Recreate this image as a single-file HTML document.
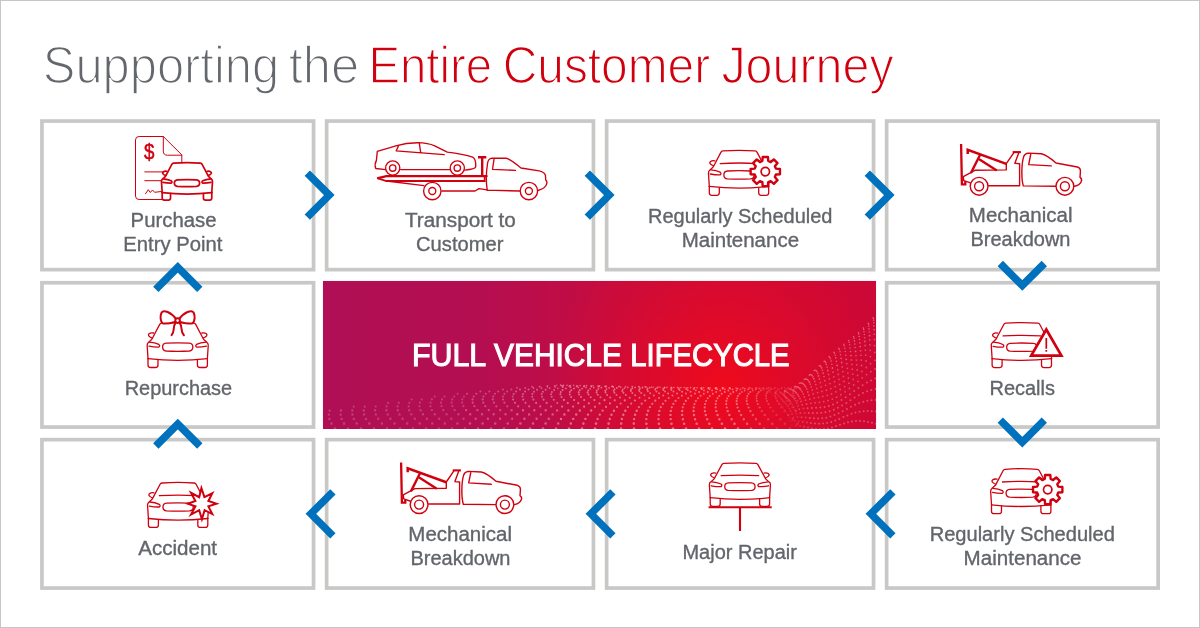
<!DOCTYPE html>
<html lang="en"><head><meta charset="utf-8"><title>Supporting the Entire Customer Journey</title>
<style>html,body{margin:0;padding:0;background:#fff}body{width:1200px;height:628px;overflow:hidden;position:relative}svg{position:absolute;left:0;top:0;display:block;will-change:transform}text{font-family:"Liberation Sans",sans-serif}.lbl{font-size:20px;fill:#62656a;stroke:#62656a;stroke-width:0.35px}.ttl{font-size:52px}</style></head><body>
<svg width="1200" height="628" viewBox="0 0 1200 628">
<defs>
<linearGradient id="bg1" x1="0" y1="0" x2="1" y2="0"><stop offset="0" stop-color="#b00f55"/><stop offset="0.28" stop-color="#b40e51"/><stop offset="0.5" stop-color="#c40c42"/><stop offset="0.72" stop-color="#cf0a38"/><stop offset="1" stop-color="#cb0836"/></linearGradient>
<radialGradient id="bg2" gradientUnits="userSpaceOnUse" cx="722" cy="388" r="175"><stop offset="0" stop-color="#f00a1c" stop-opacity="1"/><stop offset="0.45" stop-color="#e60a22" stop-opacity="0.6"/><stop offset="1" stop-color="#dc0a28" stop-opacity="0"/></radialGradient>
<clipPath id="bclip"><rect x="322.8" y="280.8" width="553.4" height="148.3"/></clipPath>
</defs>
<rect x="0.5" y="0.5" width="1199" height="627" fill="#fff" stroke="#c6c6c6" stroke-width="1"/>
<g fill="none" stroke="#c8c9c7" stroke-width="3.7">
<rect x="41.95" y="121.05" width="271.60" height="148.60"/>
<rect x="326.65" y="121.05" width="266.80" height="148.60"/>
<rect x="606.65" y="121.05" width="266.90" height="148.60"/>
<rect x="886.65" y="121.05" width="271.50" height="148.60"/>
<rect x="41.95" y="282.75" width="271.60" height="144.30"/>
<rect x="886.65" y="282.75" width="271.50" height="144.30"/>
<rect x="41.95" y="439.65" width="271.60" height="148.40"/>
<rect x="326.65" y="439.65" width="266.80" height="148.40"/>
<rect x="606.65" y="439.65" width="266.90" height="148.40"/>
<rect x="886.65" y="439.65" width="271.50" height="148.40"/>
</g>
<g clip-path="url(#bclip)">
<rect x="322.8" y="280.8" width="553.4" height="148.3" fill="url(#bg1)"/>
<rect x="322.8" y="280.8" width="553.4" height="148.3" fill="url(#bg2)"/>
<path d="M771.4 393.2h0M772.8 394.8h0M774.1 396.5h0M775.5 398.3h0" stroke="#ffd9e2" stroke-opacity="0.08" stroke-width="1.60" stroke-linecap="round" fill="none"/>
<path d="M777.5 388.0h0M784.4 387.9h0M791.3 387.9h0M798.2 387.8h0M775.1 387.9h0M781.6 387.8h0M788.1 387.8h0M794.6 387.7h0M770.0 392.0h0M774.9 392.4h0M776.2 393.5h0M777.6 394.9h0M778.9 396.3h0M780.2 397.8h0" stroke="#ffd9e2" stroke-opacity="0.16" stroke-width="1.60" stroke-linecap="round" fill="none"/>
<path d="M763.7 388.1h0M770.6 388.0h0M762.1 388.0h0M768.6 387.9h0M779.8 392.0h0M781.1 392.9h0M782.4 394.0h0M783.6 395.1h0M784.9 396.3h0M788.4 393.1h0M789.6 394.0h0" stroke="#ffd9e2" stroke-opacity="0.24" stroke-width="1.60" stroke-linecap="round" fill="none"/>
<path d="M756.8 388.1h0M755.6 388.0h0M784.8 390.9h0M786.0 391.5h0M787.2 392.3h0M789.7 389.1h0M790.8 389.4h0M792.0 389.8h0M793.1 390.4h0M794.2 391.1h0" stroke="#ffd9e2" stroke-opacity="0.32" stroke-width="1.60" stroke-linecap="round" fill="none"/>
<path d="M556.5 385.3h0M743.0 388.1h0M749.9 388.1h0M742.6 388.0h0M749.1 388.0h0M794.6 386.5h0M795.7 386.5h0M796.8 386.7h0M797.8 387.1h0M798.9 387.8h0M799.5 383.3h0M800.5 383.0h0M801.6 383.0h0M802.6 383.4h0M803.6 384.2h0M804.4 379.4h0M805.4 379.0h0M806.4 379.0h0M807.3 379.5h0M808.3 380.5h0M809.3 375.1h0M810.2 374.6h0M811.2 374.8h0M812.1 375.5h0M813.0 376.9h0M814.2 370.5h0M815.1 370.2h0M816.0 370.5h0M816.8 371.6h0M817.7 373.4h0M819.2 365.8h0M820.0 365.7h0M820.8 366.4h0M821.6 367.9h0M822.4 370.2h0M824.1 361.2h0M824.8 361.3h0M825.6 362.4h0M826.3 364.4h0M827.1 367.1h0M829.0 356.6h0M829.7 357.2h0M830.4 358.7h0M831.1 361.1h0M831.8 364.2h0M833.9 352.3h0M834.5 353.2h0M835.2 355.2h0M835.8 357.9h0M836.4 361.4h0M838.8 348.2h0M839.4 349.5h0M840.0 351.8h0M840.6 354.8h0M841.1 358.4h0M843.8 344.3h0M844.3 345.8h0M844.8 348.3h0M845.3 351.5h0M845.8 355.2h0M848.7 340.5h0M849.1 342.2h0M849.6 344.7h0M850.0 348.0h0M850.5 351.6h0M853.6 336.6h0M854.0 338.3h0M854.4 340.9h0M854.8 344.0h0M855.2 347.5h0M858.5 332.5h0M858.8 334.1h0M859.2 336.5h0M859.5 339.5h0M859.9 342.9h0M863.4 328.1h0M863.7 329.5h0M864.0 331.7h0M864.3 334.5h0M864.6 337.7h0M868.3 323.2h0M868.6 324.3h0M868.8 326.3h0M869.0 328.9h0M869.2 332.0h0M873.2 317.8h0M873.4 318.6h0M873.6 320.3h0M873.8 322.8h0M873.9 325.9h0" stroke="#ffd9e2" stroke-opacity="0.40" stroke-width="1.60" stroke-linecap="round" fill="none"/>
<path d="M563.4 385.4h0M570.3 385.5h0M577.2 385.7h0M584.2 385.8h0M591.1 385.9h0M598.0 386.1h0M604.9 386.2h0M611.8 386.4h0M618.7 386.5h0M625.6 386.6h0M632.5 386.8h0M639.4 386.9h0M646.3 387.1h0M653.2 387.2h0M660.1 387.3h0M667.0 387.4h0M673.9 387.5h0M680.8 387.6h0M687.8 387.7h0M694.7 387.8h0M701.6 387.9h0M708.5 387.9h0M715.4 388.0h0M722.3 388.0h0M729.2 388.1h0M736.1 388.1h0M560.6 385.1h0M567.1 385.2h0M573.6 385.3h0M580.1 385.5h0M586.6 385.6h0M593.1 385.7h0M599.6 385.9h0M606.1 386.0h0M612.6 386.2h0M619.1 386.3h0M625.6 386.5h0M632.1 386.6h0M638.6 386.7h0M645.1 386.9h0M651.6 387.0h0M658.1 387.1h0M664.6 387.2h0M671.1 387.3h0M677.6 387.4h0M684.1 387.5h0M690.6 387.6h0M697.1 387.7h0M703.6 387.8h0M710.1 387.8h0M716.6 387.9h0M723.1 387.9h0M729.6 388.0h0M736.1 388.0h0" stroke="#ffd9e2" stroke-opacity="0.48" stroke-width="1.60" stroke-linecap="round" fill="none"/>
<path d="M776.9 400.0h0M778.2 401.7h0M779.6 403.3h0M781.0 404.9h0M782.4 406.5h0M783.8 408.2h0M785.1 410.2h0" stroke="#ffd9e2" stroke-opacity="0.08" stroke-width="1.80" stroke-linecap="round" fill="none"/>
<path d="M777.1 390.5h0M785.2 390.4h0M793.4 390.3h0M779.0 389.3h0M786.7 389.2h0M794.4 389.2h0M774.1 388.5h0M781.4 388.4h0M788.7 388.4h0M796.0 388.3h0M781.5 399.2h0M782.8 400.5h0M784.1 401.9h0M785.5 403.3h0M786.8 404.9h0M788.1 406.6h0M789.4 408.7h0M791.2 402.9h0M792.4 404.8h0M793.7 407.2h0" stroke="#ffd9e2" stroke-opacity="0.16" stroke-width="1.80" stroke-linecap="round" fill="none"/>
<path d="M769.0 390.5h0M763.5 389.4h0M771.2 389.3h0M766.8 388.5h0M786.1 397.4h0M787.4 398.5h0M788.7 399.8h0M789.9 401.2h0M790.8 394.9h0M792.0 396.0h0M793.2 397.3h0M794.4 398.8h0M795.6 400.8h0M796.8 403.1h0M798.0 405.9h0" stroke="#ffd9e2" stroke-opacity="0.24" stroke-width="1.80" stroke-linecap="round" fill="none"/>
<path d="M752.8 390.5h0M760.9 390.5h0M755.8 389.4h0M752.1 388.6h0M759.5 388.5h0M795.4 392.0h0M796.5 393.1h0M797.7 394.6h0M798.8 396.4h0M800.0 398.7h0M801.1 401.5h0M802.3 404.8h0M801.1 390.1h0M802.2 391.8h0M803.3 394.1h0M804.4 396.9h0M805.5 400.2h0M806.6 404.0h0M805.7 387.0h0M806.7 389.2h0M807.8 392.0h0M808.8 395.2h0M809.8 399.1h0M810.8 403.3h0M810.3 384.1h0M811.2 386.8h0M812.2 390.1h0M813.2 393.9h0M814.2 398.1h0M815.1 402.8h0M814.8 381.4h0M815.8 384.6h0M816.7 388.4h0M817.6 392.6h0M818.5 397.3h0M819.4 402.3h0M819.4 378.9h0M820.3 382.6h0M821.1 386.8h0M822.0 391.4h0M822.8 396.4h0M823.7 401.6h0M824.0 376.6h0M824.8 380.7h0M825.6 385.3h0M826.4 390.2h0M827.2 395.3h0M828.0 400.6h0M828.6 374.4h0M829.3 378.8h0M830.0 383.6h0M830.8 388.6h0M831.5 393.8h0M832.3 399.1h0M833.1 372.2h0M833.8 376.8h0M834.5 381.7h0M835.2 386.7h0M835.9 391.9h0M836.6 397.2h0M837.7 369.7h0M838.3 374.4h0M839.0 379.3h0M839.6 384.4h0M840.2 389.5h0M840.8 394.7h0M842.3 366.9h0M842.8 371.6h0M843.4 376.5h0M844.0 381.4h0M844.6 386.6h0M845.1 391.8h0M846.8 363.7h0M847.4 368.3h0M847.9 373.1h0M848.4 378.0h0M848.9 383.2h0M849.4 388.5h0M851.4 359.9h0M851.9 364.4h0M852.3 369.2h0M852.8 374.1h0M853.2 379.4h0M853.7 385.0h0M856.0 355.6h0M856.4 360.1h0M856.8 364.8h0M857.2 369.9h0M857.6 375.4h0M858.0 381.4h0M860.6 350.8h0M860.9 355.2h0M861.2 360.1h0M861.6 365.5h0M861.9 371.4h0M862.3 377.9h0M865.1 345.5h0M865.4 350.1h0M865.7 355.2h0M866.0 361.0h0M866.3 367.5h0M866.6 374.6h0M869.7 339.9h0M869.9 344.8h0M870.2 350.3h0M870.4 356.6h0M870.6 363.7h0M870.9 371.7h0M874.3 334.2h0M874.5 339.5h0M874.6 345.6h0M874.8 352.5h0M875.0 360.3h0M875.1 369.0h0" stroke="#ffd9e2" stroke-opacity="0.32" stroke-width="1.80" stroke-linecap="round" fill="none"/>
<path d="M517.1 387.8h0M525.2 387.9h0M533.4 388.0h0M541.5 388.1h0M549.6 388.2h0M557.8 388.3h0M744.6 390.6h0M532.0 386.6h0M539.7 386.7h0M547.4 386.8h0M555.1 386.9h0M740.4 389.4h0M748.1 389.4h0M547.4 385.8h0M554.7 385.9h0M744.8 388.6h0M800.0 388.7h0M804.7 385.4h0M809.3 382.0h0M813.9 378.8h0M818.5 375.9h0M823.2 373.1h0M827.8 370.5h0M832.4 368.0h0M837.1 365.4h0M841.7 362.5h0M846.3 359.3h0M851.0 355.6h0M855.6 351.4h0M860.2 346.6h0M864.8 341.4h0M869.5 335.7h0M874.1 329.7h0" stroke="#ffd9e2" stroke-opacity="0.40" stroke-width="1.80" stroke-linecap="round" fill="none"/>
<path d="M565.9 388.4h0M574.0 388.5h0M582.1 388.7h0M590.2 388.8h0M598.4 388.9h0M606.5 389.1h0M614.6 389.2h0M622.8 389.3h0M630.9 389.5h0M639.0 389.6h0M647.1 389.7h0M655.2 389.8h0M663.4 390.0h0M671.5 390.1h0M679.6 390.2h0M687.8 390.2h0M695.9 390.3h0M704.0 390.4h0M712.1 390.4h0M720.2 390.5h0M728.4 390.5h0M736.5 390.5h0M562.8 387.0h0M570.5 387.2h0M578.3 387.3h0M586.0 387.4h0M593.7 387.6h0M601.4 387.7h0M609.1 387.8h0M616.9 388.0h0M624.6 388.1h0M632.3 388.3h0M640.0 388.4h0M647.7 388.5h0M655.5 388.6h0M663.2 388.7h0M670.9 388.9h0M678.6 389.0h0M686.3 389.0h0M694.0 389.1h0M701.8 389.2h0M709.5 389.3h0M717.2 389.3h0M724.9 389.3h0M732.6 389.4h0M562.0 386.0h0M569.3 386.1h0M576.6 386.3h0M584.0 386.4h0M591.3 386.6h0M598.6 386.7h0M605.9 386.8h0M613.2 387.0h0M620.5 387.1h0M627.8 387.3h0M635.1 387.4h0M642.5 387.5h0M649.8 387.7h0M657.1 387.8h0M664.4 387.9h0M671.7 388.0h0M679.0 388.1h0M686.3 388.2h0M693.6 388.3h0M701.0 388.4h0M708.3 388.4h0M715.6 388.5h0M722.9 388.5h0M730.2 388.5h0M737.5 388.6h0" stroke="#ffd9e2" stroke-opacity="0.48" stroke-width="1.80" stroke-linecap="round" fill="none"/>
<path d="M786.5 412.4h0M787.9 414.9h0M789.2 417.9h0M790.6 421.3h0M792.0 425.1h0" stroke="#ffd9e2" stroke-opacity="0.08" stroke-width="2.00" stroke-linecap="round" fill="none"/>
<path d="M776.0 398.3h0M785.7 398.3h0M795.5 398.2h0M775.3 395.9h0M784.7 395.9h0M794.0 395.8h0M775.3 393.8h0M784.2 393.7h0M793.2 393.7h0M775.9 392.0h0M784.4 391.9h0M793.0 391.9h0M790.7 411.2h0M792.0 414.0h0M793.4 417.4h0M794.7 421.1h0M796.0 425.4h0M795.0 410.1h0M796.2 413.4h0M797.5 417.1h0M798.7 421.4h0M800.0 426.0h0" stroke="#ffd9e2" stroke-opacity="0.16" stroke-width="2.00" stroke-linecap="round" fill="none"/>
<path d="M434.7 396.4h0M444.5 396.4h0M454.2 396.4h0M464.0 396.4h0M766.2 398.4h0M457.6 393.7h0M766.0 395.9h0M766.4 393.8h0M767.4 392.0h0M799.2 409.2h0M800.4 413.0h0M801.6 417.2h0M802.8 421.8h0M804.0 426.8h0M803.4 408.6h0M804.6 412.9h0M805.7 417.5h0M806.9 422.5h0M808.0 427.6h0" stroke="#ffd9e2" stroke-opacity="0.24" stroke-width="2.00" stroke-linecap="round" fill="none"/>
<path d="M473.7 396.4h0M483.5 396.4h0M493.2 396.4h0M503.0 396.5h0M512.7 396.5h0M756.5 398.4h0M467.0 393.7h0M476.3 393.7h0M485.7 393.7h0M495.0 393.8h0M504.4 393.8h0M756.6 396.0h0M480.4 391.4h0M489.3 391.4h0M498.2 391.4h0M507.2 391.5h0M757.4 393.8h0M502.9 389.4h0M511.4 389.5h0M758.9 392.0h0M807.6 408.2h0M808.7 412.9h0M809.8 417.9h0M810.9 423.1h0M812.0 428.4h0M811.9 408.0h0M812.9 413.0h0M813.9 418.2h0M815.0 423.6h0M816.0 429.0h0M816.1 407.8h0M817.1 413.1h0M818.1 418.4h0M819.0 423.8h0M820.0 429.2h0M820.3 407.5h0M821.2 412.8h0M822.2 418.2h0M823.1 423.6h0M824.0 429.0h0M824.6 406.9h0M825.4 412.3h0M826.3 417.7h0M827.1 423.0h0M828.0 428.4h0M828.8 405.9h0M829.6 411.3h0M830.4 416.6h0M831.2 422.0h0M832.0 427.4h0M833.0 404.4h0M833.8 409.8h0M834.5 415.1h0M835.3 420.6h0M836.0 426.1h0M837.2 402.5h0M837.9 407.8h0M838.6 413.3h0M839.3 418.9h0M840.0 424.8h0M841.5 400.0h0M842.1 405.5h0M842.7 411.2h0M843.4 417.1h0M844.0 423.4h0M845.7 397.2h0M846.3 402.9h0M846.9 408.9h0M847.4 415.4h0M848.0 422.3h0M849.9 394.2h0M850.5 400.2h0M851.0 406.8h0M851.5 413.8h0M852.0 421.5h0M854.2 391.1h0M854.6 397.6h0M855.1 404.8h0M855.5 412.6h0M856.0 421.0h0M858.4 388.0h0M858.8 395.2h0M859.2 403.1h0M859.6 411.7h0M860.0 421.0h0M862.6 385.2h0M863.0 393.1h0M863.3 401.8h0M863.7 411.2h0M864.0 421.3h0M866.9 382.6h0M867.1 391.3h0M867.4 400.8h0M867.7 411.1h0M868.0 422.0h0M871.1 380.4h0M871.3 390.0h0M871.5 400.2h0M871.8 411.2h0M872.0 422.8h0M875.3 378.6h0M875.5 388.9h0M875.7 399.9h0M875.8 411.5h0M876.0 423.7h0" stroke="#ffd9e2" stroke-opacity="0.32" stroke-width="2.00" stroke-linecap="round" fill="none"/>
<path d="M522.5 396.6h0M532.2 396.7h0M542.0 396.7h0M551.7 396.8h0M746.7 398.4h0M513.7 393.9h0M523.0 393.9h0M532.4 394.0h0M541.7 394.1h0M551.1 394.2h0M747.3 396.0h0M516.1 391.6h0M525.1 391.6h0M534.0 391.7h0M542.9 391.8h0M551.9 391.9h0M748.5 393.8h0M520.0 389.6h0M528.5 389.6h0M537.0 389.7h0M545.6 389.8h0M554.1 389.9h0M741.8 392.0h0M750.3 392.0h0" stroke="#ffd9e2" stroke-opacity="0.40" stroke-width="2.00" stroke-linecap="round" fill="none"/>
<path d="M561.5 396.9h0M571.2 397.0h0M581.0 397.1h0M590.7 397.2h0M600.5 397.3h0M610.2 397.4h0M620.0 397.6h0M629.7 397.7h0M639.5 397.8h0M649.2 397.9h0M659.0 398.0h0M668.7 398.0h0M678.5 398.1h0M688.2 398.2h0M698.0 398.2h0M707.7 398.3h0M717.5 398.3h0M727.2 398.4h0M737.0 398.4h0M560.4 394.3h0M569.8 394.4h0M579.1 394.5h0M588.5 394.6h0M597.8 394.7h0M607.1 394.9h0M616.5 395.0h0M625.8 395.1h0M635.2 395.2h0M644.5 395.3h0M653.9 395.4h0M663.2 395.5h0M672.5 395.6h0M681.9 395.7h0M691.2 395.8h0M700.6 395.8h0M709.9 395.9h0M719.3 395.9h0M728.6 395.9h0M737.9 396.0h0M560.8 392.0h0M569.8 392.1h0M578.7 392.2h0M587.6 392.4h0M596.6 392.5h0M605.5 392.6h0M614.4 392.7h0M623.4 392.8h0M632.3 393.0h0M641.2 393.1h0M650.2 393.2h0M659.1 393.3h0M668.1 393.4h0M677.0 393.5h0M685.9 393.6h0M694.9 393.6h0M703.8 393.7h0M712.8 393.8h0M721.7 393.8h0M730.6 393.8h0M739.6 393.8h0M562.6 390.0h0M571.2 390.2h0M579.7 390.3h0M588.2 390.4h0M596.8 390.5h0M605.3 390.7h0M613.8 390.8h0M622.3 390.9h0M630.9 391.1h0M639.4 391.2h0M647.9 391.3h0M656.5 391.4h0M665.0 391.5h0M673.5 391.6h0M682.1 391.7h0M690.6 391.8h0M699.1 391.9h0M707.7 391.9h0M716.2 392.0h0M724.7 392.0h0M733.3 392.0h0" stroke="#ffd9e2" stroke-opacity="0.48" stroke-width="2.00" stroke-linecap="round" fill="none"/>
<path d="M781.5 407.4h0M792.5 407.4h0M779.0 404.1h0M789.6 404.1h0M777.2 401.1h0M787.3 401.0h0M797.5 401.0h0" stroke="#ffd9e2" stroke-opacity="0.16" stroke-width="2.20" stroke-linecap="round" fill="none"/>
<path d="M353.7 406.6h0M364.7 406.6h0M375.7 406.5h0M386.6 406.4h0M397.6 406.4h0M408.6 406.3h0M419.5 406.3h0M430.5 406.3h0M441.5 406.2h0M452.4 406.2h0M463.4 406.2h0M770.5 407.5h0M388.2 402.9h0M398.8 402.8h0M409.4 402.8h0M419.9 402.7h0M430.5 402.7h0M441.0 402.7h0M451.6 402.7h0M462.2 402.7h0M768.5 404.1h0M411.6 399.5h0M421.7 399.5h0M431.9 399.4h0M442.0 399.4h0M452.2 399.4h0M462.3 399.4h0M767.0 401.1h0" stroke="#ffd9e2" stroke-opacity="0.24" stroke-width="2.20" stroke-linecap="round" fill="none"/>
<path d="M474.4 406.2h0M485.3 406.2h0M496.3 406.3h0M507.3 406.3h0M759.6 407.5h0M472.7 402.7h0M483.3 402.7h0M493.9 402.7h0M504.4 402.7h0M757.9 404.1h0M472.5 399.4h0M482.7 399.4h0M492.8 399.4h0M503.0 399.5h0M756.9 401.1h0" stroke="#ffd9e2" stroke-opacity="0.32" stroke-width="2.20" stroke-linecap="round" fill="none"/>
<path d="M518.2 406.3h0M529.2 406.4h0M540.2 406.4h0M551.2 406.5h0M748.6 407.5h0M515.0 402.8h0M525.5 402.8h0M536.1 402.9h0M546.7 402.9h0M557.2 403.0h0M747.4 404.2h0M513.1 399.5h0M523.3 399.6h0M533.4 399.6h0M543.6 399.7h0M553.8 399.8h0M746.7 401.1h0" stroke="#ffd9e2" stroke-opacity="0.40" stroke-width="2.20" stroke-linecap="round" fill="none"/>
<path d="M562.1 406.6h0M573.1 406.6h0M584.1 406.7h0M595.0 406.8h0M606.0 406.9h0M617.0 406.9h0M627.9 407.0h0M638.9 407.1h0M649.9 407.2h0M660.8 407.2h0M671.8 407.3h0M682.8 407.3h0M693.8 407.4h0M704.7 407.4h0M715.7 407.4h0M726.7 407.5h0M737.6 407.5h0M567.8 403.1h0M578.3 403.2h0M588.9 403.3h0M599.5 403.4h0M610.0 403.4h0M620.6 403.5h0M631.2 403.6h0M641.7 403.7h0M652.3 403.8h0M662.9 403.9h0M673.4 403.9h0M684.0 404.0h0M694.5 404.0h0M705.1 404.1h0M715.7 404.1h0M726.2 404.1h0M736.8 404.1h0M563.9 399.9h0M574.1 400.0h0M584.2 400.0h0M594.4 400.1h0M604.5 400.2h0M614.7 400.3h0M624.8 400.4h0M635.0 400.5h0M645.2 400.6h0M655.3 400.7h0M665.5 400.8h0M675.6 400.9h0M685.8 400.9h0M695.9 401.0h0M706.1 401.0h0M716.2 401.1h0M726.4 401.1h0M736.6 401.1h0" stroke="#ffd9e2" stroke-opacity="0.48" stroke-width="2.20" stroke-linecap="round" fill="none"/>
<path d="M780.4 419.2h0M792.6 419.2h0M776.5 415.0h0M788.3 415.0h0M773.2 411.1h0M784.6 411.1h0M795.9 411.0h0" stroke="#ffd9e2" stroke-opacity="0.16" stroke-width="2.40" stroke-linecap="round" fill="none"/>
<path d="M329.4 419.0h0M341.6 418.9h0M353.8 418.9h0M366.0 418.9h0M378.2 418.8h0M390.4 418.8h0M402.6 418.8h0M414.8 418.8h0M426.9 418.7h0M439.1 418.7h0M451.3 418.7h0M463.5 418.7h0M768.2 419.2h0M328.8 414.6h0M340.6 414.6h0M352.4 414.5h0M364.1 414.5h0M375.9 414.4h0M387.7 414.4h0M399.5 414.4h0M411.3 414.3h0M423.0 414.3h0M434.8 414.3h0M446.6 414.3h0M458.4 414.3h0M764.7 415.0h0M329.6 410.6h0M340.9 410.5h0M352.3 410.4h0M363.7 410.4h0M375.1 410.3h0M386.4 410.3h0M397.8 410.2h0M409.2 410.2h0M420.6 410.2h0M431.9 410.1h0M443.3 410.1h0M454.7 410.1h0M761.8 411.1h0" stroke="#ffd9e2" stroke-opacity="0.24" stroke-width="2.40" stroke-linecap="round" fill="none"/>
<path d="M475.7 418.7h0M487.9 418.7h0M500.1 418.7h0M512.2 418.8h0M756.0 419.2h0M470.2 414.3h0M482.0 414.3h0M493.7 414.3h0M505.5 414.3h0M752.9 415.0h0M466.1 410.1h0M477.4 410.1h0M488.8 410.1h0M500.2 410.1h0M511.6 410.2h0" stroke="#ffd9e2" stroke-opacity="0.32" stroke-width="2.40" stroke-linecap="round" fill="none"/>
<path d="M524.4 418.8h0M536.6 418.8h0M548.8 418.8h0M743.8 419.2h0M517.3 414.3h0M529.1 414.4h0M540.9 414.4h0M552.6 414.4h0M741.1 415.0h0M523.0 410.2h0M534.3 410.3h0M545.7 410.3h0M557.1 410.4h0M750.4 411.1h0" stroke="#ffd9e2" stroke-opacity="0.40" stroke-width="2.40" stroke-linecap="round" fill="none"/>
<path d="M561.0 418.9h0M573.2 418.9h0M585.4 418.9h0M597.6 419.0h0M609.8 419.0h0M621.9 419.0h0M634.1 419.1h0M646.3 419.1h0M658.5 419.1h0M670.7 419.1h0M682.9 419.2h0M695.1 419.2h0M707.2 419.2h0M719.4 419.2h0M731.6 419.2h0M564.4 414.5h0M576.2 414.5h0M588.0 414.6h0M599.8 414.6h0M611.5 414.7h0M623.3 414.7h0M635.1 414.8h0M646.9 414.8h0M658.7 414.9h0M670.5 414.9h0M682.2 414.9h0M694.0 415.0h0M705.8 415.0h0M717.6 415.0h0M729.4 415.0h0M568.4 410.4h0M579.8 410.5h0M591.2 410.5h0M602.6 410.6h0M613.9 410.7h0M625.3 410.7h0M636.7 410.8h0M648.1 410.8h0M659.4 410.9h0M670.8 410.9h0M682.2 411.0h0M693.6 411.0h0M704.9 411.1h0M716.3 411.1h0M727.7 411.1h0M739.1 411.1h0" stroke="#ffd9e2" stroke-opacity="0.48" stroke-width="2.40" stroke-linecap="round" fill="none"/>
<path d="M777.0 428.5h0M790.0 428.5h0M784.9 423.7h0M797.5 423.7h0" stroke="#ffd9e2" stroke-opacity="0.16" stroke-width="2.60" stroke-linecap="round" fill="none"/>
<path d="M322.0 428.5h0M335.0 428.5h0M348.0 428.5h0M361.0 428.5h0M374.0 428.5h0M387.0 428.5h0M400.0 428.5h0M413.0 428.5h0M426.0 428.5h0M439.0 428.5h0M452.0 428.5h0M465.0 428.5h0M764.0 428.5h0M331.5 423.6h0M344.1 423.6h0M356.7 423.5h0M369.3 423.5h0M381.9 423.5h0M394.5 423.5h0M407.1 423.5h0M419.7 423.5h0M432.3 423.5h0M444.8 423.5h0M457.4 423.5h0M772.3 423.7h0" stroke="#ffd9e2" stroke-opacity="0.24" stroke-width="2.60" stroke-linecap="round" fill="none"/>
<path d="M478.0 428.5h0M491.0 428.5h0M504.0 428.5h0M751.0 428.5h0M470.0 423.5h0M482.6 423.5h0M495.2 423.5h0M507.8 423.5h0M759.7 423.7h0" stroke="#ffd9e2" stroke-opacity="0.32" stroke-width="2.60" stroke-linecap="round" fill="none"/>
<path d="M517.0 428.5h0M530.0 428.5h0M543.0 428.5h0M556.0 428.5h0M520.4 423.5h0M533.0 423.5h0M545.6 423.5h0M558.2 423.5h0M747.1 423.7h0" stroke="#ffd9e2" stroke-opacity="0.40" stroke-width="2.60" stroke-linecap="round" fill="none"/>
<path d="M569.0 428.5h0M582.0 428.5h0M595.0 428.5h0M608.0 428.5h0M621.0 428.5h0M634.0 428.5h0M647.0 428.5h0M660.0 428.5h0M673.0 428.5h0M686.0 428.5h0M699.0 428.5h0M712.0 428.5h0M725.0 428.5h0M738.0 428.5h0M570.8 423.5h0M583.4 423.6h0M596.0 423.6h0M608.6 423.6h0M621.2 423.6h0M633.8 423.6h0M646.4 423.7h0M658.9 423.7h0M671.5 423.7h0M684.1 423.7h0M696.7 423.7h0M709.3 423.7h0M721.9 423.7h0M734.5 423.7h0" stroke="#ffd9e2" stroke-opacity="0.48" stroke-width="2.60" stroke-linecap="round" fill="none"/>
</g>
<g fill="#fff" stroke="#fff" stroke-width="1.1" font-size="31">
<text x="412.00" y="366.3" textLength="74.26" lengthAdjust="spacingAndGlyphs">FULL</text>
<text x="494.07" y="366.3" textLength="127.87" lengthAdjust="spacingAndGlyphs">VEHICLE</text>
<text x="630.30" y="366.3" textLength="159.28" lengthAdjust="spacingAndGlyphs">LIFECYCLE</text>
</g>
<g class="ttl" stroke="#fff" stroke-width="1.4" paint-order="fill stroke">
<text x="42.87" y="83.0" textLength="236.21" lengthAdjust="spacingAndGlyphs" fill="#64676c" stroke-width="1.6">Supporting</text>
<text x="288.75" y="83.0" textLength="70.60" lengthAdjust="spacingAndGlyphs" fill="#64676c" stroke-width="1.6">the</text>
<text x="368.45" y="83.0" textLength="123.64" lengthAdjust="spacingAndGlyphs" fill="#d1000f">Entire</text>
<text x="502.70" y="83.0" textLength="207.50" lengthAdjust="spacingAndGlyphs" fill="#d1000f">Customer</text>
<text x="721.38" y="83.0" textLength="172.26" lengthAdjust="spacingAndGlyphs" fill="#d1000f">Journey</text>
</g>
<g fill="none" stroke="#d1000f" stroke-linejoin="round" stroke-linecap="round">
<g fill="none" stroke="#d1000f" stroke-width="1.0" stroke-linejoin="round" stroke-linecap="round">
<path d="M162.7 199.5L139.1 199.5Q135.5 199.5 135.5 196.0L135.5 140.0Q135.5 136.5 139.1 136.5L163.3 136.5L181.8 154.9L181.8 163.2"/>
<path d="M163.3 136.5L163.3 151.1Q163.3 155.2 167.4 155.2L181.8 155.2"/>
<path d="M144.8 171.9L163.9 171.9M144.8 180.7L162.0 180.7"/>
<path d="M145.5 193.8L148.3 189.7L150.3 192.5L152.5 190.0L154.6 192.3L161.4 191.5"/>
</g>
<text transform="translate(149.3 159.4) scale(0.82 1)" x="0" y="0" font-size="22.9" fill="#d1000f" stroke="#d1000f" stroke-width="0.5" text-anchor="middle">$</text>
<g transform="translate(161.30 162.30) scale(0.8350 0.8350)" stroke-width="2.036"><path d="M1.06 36.4 L0.2 23 Q0.2 21.2 1.4 20.2 L4.7 17.2 Q5.5 16.2 6 15 L12.6 2.4 Q13.3 1.1 14.8 0.9 Q30.75 -0.3 46.7 0.9 Q48.2 1.1 48.9 2.4 L55.5 15 Q56 16.2 56.8 17.2 L60.1 20.2 Q61.3 21.2 61.3 23 L60.44 36.4 L60.44 42.8 Q60.44 45.3 57.94 45.3 L52.96 45.3 Q50.46 45.3 50.46 42.8 L50.46 37.6 Q30.75 39.4 11.04 37.6 L11.04 42.8 Q11.04 45.3 8.54 45.3 L3.56 45.3 Q1.06 45.3 1.06 42.8 Z" fill="#fff" stroke="none"/><path d="M1.06 36.4 L0.2 23 Q0.2 21.2 1.4 20.2 L4.7 17.2 Q5.5 16.2 6 15 L12.6 2.4 Q13.3 1.1 14.8 0.9 Q30.75 -0.3 46.7 0.9 Q48.2 1.1 48.9 2.4 L55.5 15 Q56 16.2 56.8 17.2 L60.1 20.2 Q61.3 21.2 61.3 23 L60.44 36.4"/><path d="M1.06 36.4 Q30.75 39.8 60.44 36.4"/><path d="M1.06 36.4 L1.06 42.8 Q1.06 45.3 3.56 45.3 L8.54 45.3 Q11.04 45.3 11.04 42.8 L11.04 37.6"/><path d="M60.44 36.40L60.44 42.80Q60.44 45.30 57.94 45.30L52.96 45.30Q50.46 45.30 50.46 42.80L50.46 37.60"/><path d="M6.6 10.8 Q4 10.2 2.4 11.4 Q0.8 12.6 2.2 14 Q3.4 15.2 5 15.7"/><path d="M54.90 10.80Q57.50 10.20 59.10 11.40Q60.70 12.60 59.30 14.00Q58.10 15.20 56.50 15.70"/><path d="M2.4 19.9 Q8 20.4 11.9 22.2 Q13.6 23.6 11.9 24.9 Q7 25 2 24"/><path d="M59.10 19.90Q53.50 20.40 49.60 22.20Q47.90 23.60 49.60 24.90Q54.50 25.00 59.50 24.00"/><path d="M19.2 21 Q30.75 20.4 42.3 21 Q45.9 21.3 45.9 24.9 Q45.9 28.5 42.3 28.8 Q30.75 29.4 19.2 28.8 Q15.6 28.5 15.6 24.9 Q15.6 21.3 19.2 21 Z"/></g>
<g transform="translate(708.25 150.00) scale(1.0000 1.0000)" stroke-width="1.300"><path d="M1.06 36.4 L0.2 23 Q0.2 21.2 1.4 20.2 L4.7 17.2 Q5.5 16.2 6 15 L12.6 2.4 Q13.3 1.1 14.8 0.9 Q30.75 -0.3 46.7 0.9 Q48.2 1.1 48.9 2.4 L55.5 15 Q56 16.2 56.8 17.2 L60.1 20.2 Q61.3 21.2 61.3 23 L60.44 36.4 L60.44 42.8 Q60.44 45.3 57.94 45.3 L52.96 45.3 Q50.46 45.3 50.46 42.8 L50.46 37.6 Q30.75 39.4 11.04 37.6 L11.04 42.8 Q11.04 45.3 8.54 45.3 L3.56 45.3 Q1.06 45.3 1.06 42.8 Z" fill="#fff" stroke="none"/><path d="M1.06 36.4 L0.2 23 Q0.2 21.2 1.4 20.2 L4.7 17.2 Q5.5 16.2 6 15 L12.6 2.4 Q13.3 1.1 14.8 0.9 Q30.75 -0.3 46.7 0.9 Q48.2 1.1 48.9 2.4 L55.5 15 Q56 16.2 56.8 17.2 L60.1 20.2 Q61.3 21.2 61.3 23 L60.44 36.4"/><path d="M1.06 36.4 Q30.75 39.8 60.44 36.4"/><path d="M1.06 36.4 L1.06 42.8 Q1.06 45.3 3.56 45.3 L8.54 45.3 Q11.04 45.3 11.04 42.8 L11.04 37.6"/><path d="M60.44 36.40L60.44 42.80Q60.44 45.30 57.94 45.30L52.96 45.30Q50.46 45.30 50.46 42.80L50.46 37.60"/><path d="M6.6 10.8 Q4 10.2 2.4 11.4 Q0.8 12.6 2.2 14 Q3.4 15.2 5 15.7"/><path d="M54.90 10.80Q57.50 10.20 59.10 11.40Q60.70 12.60 59.30 14.00Q58.10 15.20 56.50 15.70"/><path d="M12 13.6 Q30.75 12.4 49.5 13.6"/><path d="M2.4 19.9 Q8 20.4 11.9 22.2 Q13.6 23.6 11.9 24.9 Q7 25 2 24"/><path d="M59.10 19.90Q53.50 20.40 49.60 22.20Q47.90 23.60 49.60 24.90Q54.50 25.00 59.50 24.00"/><path d="M19.2 21 Q30.75 20.4 42.3 21 Q45.9 21.3 45.9 24.9 Q45.9 28.5 42.3 28.8 Q30.75 29.4 19.2 28.8 Q15.6 28.5 15.6 24.9 Q15.6 21.3 19.2 21 Z"/></g>
<path d="M762.36 161.00 L762.71 156.93 L767.89 156.93 L768.24 161.00 L770.72 162.03 L773.85 159.39 L777.51 163.05 L774.87 166.18 L775.90 168.66 L779.97 169.01 L779.97 174.19 L775.90 174.54 L774.87 177.02 L777.51 180.15 L773.85 183.81 L770.72 181.17 L768.24 182.20 L767.89 186.27 L762.71 186.27 L762.36 182.20 L759.88 181.17 L756.75 183.81 L753.09 180.15 L755.73 177.02 L754.70 174.54 L750.63 174.19 L750.63 169.01 L754.70 168.66 L755.73 166.18 L753.09 163.05 L756.75 159.39 L759.88 162.03 Z" fill="#fff" stroke-width="2.40" stroke-linejoin="round"/>
<circle cx="765.30" cy="171.60" r="4.20" fill="#fff" stroke-width="1.70"/>
<g transform="translate(991.05 322.30) scale(1.0000 1.0000)" stroke-width="1.300"><path d="M1.06 36.4 L0.2 23 Q0.2 21.2 1.4 20.2 L4.7 17.2 Q5.5 16.2 6 15 L12.6 2.4 Q13.3 1.1 14.8 0.9 Q30.75 -0.3 46.7 0.9 Q48.2 1.1 48.9 2.4 L55.5 15 Q56 16.2 56.8 17.2 L60.1 20.2 Q61.3 21.2 61.3 23 L60.44 36.4 L60.44 42.8 Q60.44 45.3 57.94 45.3 L52.96 45.3 Q50.46 45.3 50.46 42.8 L50.46 37.6 Q30.75 39.4 11.04 37.6 L11.04 42.8 Q11.04 45.3 8.54 45.3 L3.56 45.3 Q1.06 45.3 1.06 42.8 Z" fill="#fff" stroke="none"/><path d="M1.06 36.4 L0.2 23 Q0.2 21.2 1.4 20.2 L4.7 17.2 Q5.5 16.2 6 15 L12.6 2.4 Q13.3 1.1 14.8 0.9 Q30.75 -0.3 46.7 0.9 Q48.2 1.1 48.9 2.4 L55.5 15 Q56 16.2 56.8 17.2 L60.1 20.2 Q61.3 21.2 61.3 23 L60.44 36.4"/><path d="M1.06 36.4 Q30.75 39.8 60.44 36.4"/><path d="M1.06 36.4 L1.06 42.8 Q1.06 45.3 3.56 45.3 L8.54 45.3 Q11.04 45.3 11.04 42.8 L11.04 37.6"/><path d="M60.44 36.40L60.44 42.80Q60.44 45.30 57.94 45.30L52.96 45.30Q50.46 45.30 50.46 42.80L50.46 37.60"/><path d="M6.6 10.8 Q4 10.2 2.4 11.4 Q0.8 12.6 2.2 14 Q3.4 15.2 5 15.7"/><path d="M12 13.6 Q30.75 12.4 49.5 13.6"/><path d="M2.4 19.9 Q8 20.4 11.9 22.2 Q13.6 23.6 11.9 24.9 Q7 25 2 24"/><path d="M59.10 19.90Q53.50 20.40 49.60 22.20Q47.90 23.60 49.60 24.90Q54.50 25.00 59.50 24.00"/><path d="M19.2 21 Q30.75 20.4 42.3 21 Q45.9 21.3 45.9 24.9 Q45.9 28.5 42.3 28.8 Q30.75 29.4 19.2 28.8 Q15.6 28.5 15.6 24.9 Q15.6 21.3 19.2 21 Z"/></g>
<path d="M1046.3 329.5 L1061.4 355.55 L1031.2 355.55 Z" fill="#fff" stroke-width="2.7" stroke-linejoin="miter"/>
<path d="M1046.3 338.0 L1046.3 348.7 M1046.3 349.9 L1046.3 351.7" stroke-width="1.7" stroke-linecap="butt"/>
<g transform="translate(990.45 468.40) scale(1.0000 1.0000)" stroke-width="1.300"><path d="M1.06 36.4 L0.2 23 Q0.2 21.2 1.4 20.2 L4.7 17.2 Q5.5 16.2 6 15 L12.6 2.4 Q13.3 1.1 14.8 0.9 Q30.75 -0.3 46.7 0.9 Q48.2 1.1 48.9 2.4 L55.5 15 Q56 16.2 56.8 17.2 L60.1 20.2 Q61.3 21.2 61.3 23 L60.44 36.4 L60.44 42.8 Q60.44 45.3 57.94 45.3 L52.96 45.3 Q50.46 45.3 50.46 42.8 L50.46 37.6 Q30.75 39.4 11.04 37.6 L11.04 42.8 Q11.04 45.3 8.54 45.3 L3.56 45.3 Q1.06 45.3 1.06 42.8 Z" fill="#fff" stroke="none"/><path d="M1.06 36.4 L0.2 23 Q0.2 21.2 1.4 20.2 L4.7 17.2 Q5.5 16.2 6 15 L12.6 2.4 Q13.3 1.1 14.8 0.9 Q30.75 -0.3 46.7 0.9 Q48.2 1.1 48.9 2.4 L55.5 15 Q56 16.2 56.8 17.2 L60.1 20.2 Q61.3 21.2 61.3 23 L60.44 36.4"/><path d="M1.06 36.4 Q30.75 39.8 60.44 36.4"/><path d="M1.06 36.4 L1.06 42.8 Q1.06 45.3 3.56 45.3 L8.54 45.3 Q11.04 45.3 11.04 42.8 L11.04 37.6"/><path d="M60.44 36.40L60.44 42.80Q60.44 45.30 57.94 45.30L52.96 45.30Q50.46 45.30 50.46 42.80L50.46 37.60"/><path d="M6.6 10.8 Q4 10.2 2.4 11.4 Q0.8 12.6 2.2 14 Q3.4 15.2 5 15.7"/><path d="M54.90 10.80Q57.50 10.20 59.10 11.40Q60.70 12.60 59.30 14.00Q58.10 15.20 56.50 15.70"/><path d="M12 13.6 Q30.75 12.4 49.5 13.6"/><path d="M2.4 19.9 Q8 20.4 11.9 22.2 Q13.6 23.6 11.9 24.9 Q7 25 2 24"/><path d="M59.10 19.90Q53.50 20.40 49.60 22.20Q47.90 23.60 49.60 24.90Q54.50 25.00 59.50 24.00"/><path d="M19.2 21 Q30.75 20.4 42.3 21 Q45.9 21.3 45.9 24.9 Q45.9 28.5 42.3 28.8 Q30.75 29.4 19.2 28.8 Q15.6 28.5 15.6 24.9 Q15.6 21.3 19.2 21 Z"/></g>
<path d="M1044.76 479.00 L1045.11 474.93 L1050.29 474.93 L1050.64 479.00 L1053.12 480.03 L1056.25 477.39 L1059.91 481.05 L1057.27 484.18 L1058.30 486.66 L1062.37 487.01 L1062.37 492.19 L1058.30 492.54 L1057.27 495.02 L1059.91 498.15 L1056.25 501.81 L1053.12 499.17 L1050.64 500.20 L1050.29 504.27 L1045.11 504.27 L1044.76 500.20 L1042.28 499.17 L1039.15 501.81 L1035.49 498.15 L1038.13 495.02 L1037.10 492.54 L1033.03 492.19 L1033.03 487.01 L1037.10 486.66 L1038.13 484.18 L1035.49 481.05 L1039.15 477.39 L1042.28 480.03 Z" fill="#fff" stroke-width="2.40" stroke-linejoin="round"/>
<circle cx="1047.70" cy="489.60" r="4.20" fill="#fff" stroke-width="1.70"/>
<g transform="translate(709.15 462.60) scale(1.0000 0.9650)" stroke-width="1.300"><path d="M1.06 36.4 L0.2 23 Q0.2 21.2 1.4 20.2 L4.7 17.2 Q5.5 16.2 6 15 L12.6 2.4 Q13.3 1.1 14.8 0.9 Q30.75 -0.3 46.7 0.9 Q48.2 1.1 48.9 2.4 L55.5 15 Q56 16.2 56.8 17.2 L60.1 20.2 Q61.3 21.2 61.3 23 L60.44 36.4 L60.44 42.8 Q60.44 45.3 57.94 45.3 L52.96 45.3 Q50.46 45.3 50.46 42.8 L50.46 37.6 Q30.75 39.4 11.04 37.6 L11.04 42.8 Q11.04 45.3 8.54 45.3 L3.56 45.3 Q1.06 45.3 1.06 42.8 Z" fill="#fff" stroke="none"/><path d="M1.06 36.4 L0.2 23 Q0.2 21.2 1.4 20.2 L4.7 17.2 Q5.5 16.2 6 15 L12.6 2.4 Q13.3 1.1 14.8 0.9 Q30.75 -0.3 46.7 0.9 Q48.2 1.1 48.9 2.4 L55.5 15 Q56 16.2 56.8 17.2 L60.1 20.2 Q61.3 21.2 61.3 23 L60.44 36.4"/><path d="M1.06 36.4 Q30.75 39.8 60.44 36.4"/><path d="M1.06 36.4 L1.06 42.8 Q1.06 45.3 3.56 45.3 L8.54 45.3 Q11.04 45.3 11.04 42.8 L11.04 37.6"/><path d="M60.44 36.40L60.44 42.80Q60.44 45.30 57.94 45.30L52.96 45.30Q50.46 45.30 50.46 42.80L50.46 37.60"/><path d="M6.6 10.8 Q4 10.2 2.4 11.4 Q0.8 12.6 2.2 14 Q3.4 15.2 5 15.7"/><path d="M54.90 10.80Q57.50 10.20 59.10 11.40Q60.70 12.60 59.30 14.00Q58.10 15.20 56.50 15.70"/><path d="M12 13.6 Q30.75 12.4 49.5 13.6"/><path d="M2.4 19.9 Q8 20.4 11.9 22.2 Q13.6 23.6 11.9 24.9 Q7 25 2 24"/><path d="M59.10 19.90Q53.50 20.40 49.60 22.20Q47.90 23.60 49.60 24.90Q54.50 25.00 59.50 24.00"/><path d="M19.2 21 Q30.75 20.4 42.3 21 Q45.9 21.3 45.9 24.9 Q45.9 28.5 42.3 28.8 Q30.75 29.4 19.2 28.8 Q15.6 28.5 15.6 24.9 Q15.6 21.3 19.2 21 Z"/></g>
<path d="M708.6 507.3 L771.7 507.3 M740 507.3 L740 531" stroke-width="2.1" stroke-linecap="butt"/>
<g transform="translate(147.35 482.10) scale(1.0000 1.0000)" stroke-width="1.300"><path d="M1.06 36.4 L0.2 23 Q0.2 21.2 1.4 20.2 L4.7 17.2 Q5.5 16.2 6 15 L12.6 2.4 Q13.3 1.1 14.8 0.9 Q30.75 -0.3 46.7 0.9 Q48.2 1.1 48.9 2.4 L55.5 15 Q56 16.2 56.8 17.2 L60.1 20.2 Q61.3 21.2 61.3 23 L60.44 36.4 L60.44 42.8 Q60.44 45.3 57.94 45.3 L52.96 45.3 Q50.46 45.3 50.46 42.8 L50.46 37.6 Q30.75 39.4 11.04 37.6 L11.04 42.8 Q11.04 45.3 8.54 45.3 L3.56 45.3 Q1.06 45.3 1.06 42.8 Z" fill="#fff" stroke="none"/><path d="M1.06 36.4 L0.2 23 Q0.2 21.2 1.4 20.2 L4.7 17.2 Q5.5 16.2 6 15 L12.6 2.4 Q13.3 1.1 14.8 0.9 Q30.75 -0.3 46.7 0.9 Q48.2 1.1 48.9 2.4 L55.5 15 Q56 16.2 56.8 17.2 L60.1 20.2 Q61.3 21.2 61.3 23 L60.44 36.4"/><path d="M1.06 36.4 Q30.75 39.8 60.44 36.4"/><path d="M1.06 36.4 L1.06 42.8 Q1.06 45.3 3.56 45.3 L8.54 45.3 Q11.04 45.3 11.04 42.8 L11.04 37.6"/><path d="M60.44 36.40L60.44 42.80Q60.44 45.30 57.94 45.30L52.96 45.30Q50.46 45.30 50.46 42.80L50.46 37.60"/><path d="M6.6 10.8 Q4 10.2 2.4 11.4 Q0.8 12.6 2.2 14 Q3.4 15.2 5 15.7"/><path d="M12 13.6 Q30.75 12.4 49.5 13.6"/><path d="M2.4 19.9 Q8 20.4 11.9 22.2 Q13.6 23.6 11.9 24.9 Q7 25 2 24"/><path d="M59.10 19.90Q53.50 20.40 49.60 22.20Q47.90 23.60 49.60 24.90Q54.50 25.00 59.50 24.00"/><path d="M19.2 21 Q30.75 20.4 42.3 21 Q45.9 21.3 45.9 24.9 Q45.9 28.5 42.3 28.8 Q30.75 29.4 19.2 28.8 Q15.6 28.5 15.6 24.9 Q15.6 21.3 19.2 21 Z"/></g>
<path d="M201.4 488.1 L204.4 497.1 L212.3 493.3 L208.4 501.0 L216.5 503.7 L208.4 506.4 L212.3 514.1 L204.6 510.2 L201.9 519.3 L199.2 510.2 L191.0 514.6 L195.4 506.4 L187.8 503.7 L195.4 501.0 L191.0 492.8 L199.2 497.2 Z" fill="#fff" stroke-width="2" stroke-linejoin="miter" stroke-miterlimit="6"/>
<g transform="translate(146.95 322.20) scale(1.0000 1.0000)" stroke-width="1.300"><path d="M1.06 36.4 L0.2 23 Q0.2 21.2 1.4 20.2 L4.7 17.2 Q5.5 16.2 6 15 L12.6 2.4 Q13.3 1.1 14.8 0.9 Q30.75 -0.3 46.7 0.9 Q48.2 1.1 48.9 2.4 L55.5 15 Q56 16.2 56.8 17.2 L60.1 20.2 Q61.3 21.2 61.3 23 L60.44 36.4 L60.44 42.8 Q60.44 45.3 57.94 45.3 L52.96 45.3 Q50.46 45.3 50.46 42.8 L50.46 37.6 Q30.75 39.4 11.04 37.6 L11.04 42.8 Q11.04 45.3 8.54 45.3 L3.56 45.3 Q1.06 45.3 1.06 42.8 Z" fill="#fff" stroke="none"/><path d="M1.06 36.4 L0.2 23 Q0.2 21.2 1.4 20.2 L4.7 17.2 Q5.5 16.2 6 15 L12.6 2.4 Q13.3 1.1 14.8 0.9 Q30.75 -0.3 46.7 0.9 Q48.2 1.1 48.9 2.4 L55.5 15 Q56 16.2 56.8 17.2 L60.1 20.2 Q61.3 21.2 61.3 23 L60.44 36.4"/><path d="M1.06 36.4 Q30.75 39.8 60.44 36.4"/><path d="M1.06 36.4 L1.06 42.8 Q1.06 45.3 3.56 45.3 L8.54 45.3 Q11.04 45.3 11.04 42.8 L11.04 37.6"/><path d="M60.44 36.40L60.44 42.80Q60.44 45.30 57.94 45.30L52.96 45.30Q50.46 45.30 50.46 42.80L50.46 37.60"/><path d="M6.6 10.8 Q4 10.2 2.4 11.4 Q0.8 12.6 2.2 14 Q3.4 15.2 5 15.7"/><path d="M54.90 10.80Q57.50 10.20 59.10 11.40Q60.70 12.60 59.30 14.00Q58.10 15.20 56.50 15.70"/><path d="M2.4 19.9 Q8 20.4 11.9 22.2 Q13.6 23.6 11.9 24.9 Q7 25 2 24"/><path d="M59.10 19.90Q53.50 20.40 49.60 22.20Q47.90 23.60 49.60 24.90Q54.50 25.00 59.50 24.00"/><path d="M19.2 21 Q30.75 20.4 42.3 21 Q45.9 21.3 45.9 24.9 Q45.9 28.5 42.3 28.8 Q30.75 29.4 19.2 28.8 Q15.6 28.5 15.6 24.9 Q15.6 21.3 19.2 21 Z"/></g>
<g stroke-width="2">
<path d="M176.2 319.2 C171 312 163.5 309.5 161.6 312.5 C160 316 160.2 321 162.6 323.2 C167 324.4 172.5 322.6 176.2 321.6" fill="#fff"/>
<path d="M179 319.2 C184.2 312 191.700 309.5 193.6 312.5 C195.2 316 195 321 192.6 323.2 C188.2 324.4 182.7 322.6 179 321.6" fill="#fff"/>
<circle cx="177.6" cy="320.6" r="2.3" fill="#fff"/>
<path d="M175.6 322.6 C172.4 327 175.2 331 171.6 335.2 M179.6 322.6 C182.8 327 180 331 183.9 335.2"/>
</g>
</g>
<g fill="none" stroke="#d1000f" stroke-width="1.35" stroke-linejoin="round" stroke-linecap="round">
<path d="M385.6 169.6L375.8 168.5Q374.2 164.5 376.4 160.4L377.3 151.4L395.9 145.8Q406.2 142.7 417.2 142.7Q428.3 143.0 434.7 145.8L447.3 152.2Q463.2 154.1 472.7 157.2Q475.8 158.5 475.8 166.7Q475.5 169.3 464.7 170.1M400.6 169.6L450.2 169.6"/>
<path d="M398.6 145.5L396.2 150.9L444.2 154.7M419.3 143.0L420.7 152.6"/>
<circle cx="392.7" cy="168.0" r="7.1" fill="#fff"/><circle cx="392.7" cy="168.0" r="3.2"/>
<circle cx="457.3" cy="168.0" r="7.1" fill="#fff"/><circle cx="457.3" cy="168.0" r="3.2"/>
<path d="M378.0 178.1L386.4 176.2L486.6 176.2" stroke-width="2.3" stroke-linejoin="miter"/>
<path d="M378.0 178.4L386.4 181.0L484.7 181.0L484.7 176.2" stroke-width="1.8" stroke-linejoin="miter"/>
<path d="M386.4 181.0L423.9 185.7M441.8 191.0L475.0 191.0L479.0 188.6L487.2 189.8"/>
<path d="M482.2 156.9L482.2 175.9M478.0 157.2L486.3 157.2" stroke-width="2.4" stroke-linecap="butt"/>
<path d="M487.2 190.2Q485.3 177.5 487.5 163.6Q488.2 158.5 492.0 158.2L505.9 158.2Q510.7 159.3 521.0 168.0L539.2 170.8Q545.2 172.1 545.5 175.9L545.7 180.0Q547.6 181.6 546.6 184.1Q545.5 188.3 537.9 190.5M487.2 190.2L519.8 191.0"/>
<path d="M494.0 159.4L492.5 169.3L515.4 170.4"/>
<circle cx="432.3" cy="191.0" r="8.7" fill="#fff"/><circle cx="432.3" cy="191.0" r="3.5"/>
<circle cx="528.9" cy="191.0" r="8.7" fill="#fff"/><circle cx="528.9" cy="191.0" r="3.5"/>
</g>
<g transform="translate(0.00 0.00)" fill="none" stroke="#d1000f" stroke-width="1.4" stroke-linejoin="round" stroke-linecap="round">
<path d="M961.1 144.1L961.9 184.3L965.3 184.3L965.3 181.0" stroke-width="2.3" stroke-linecap="butt" stroke-linejoin="miter"/>
<path d="M967.7 153.9L967.7 149.9L1006.3 163.9" stroke-width="2.5" stroke-linecap="butt" stroke-linejoin="miter"/>
<path d="M980.0 155.0L971.3 172.3M980.0 159.7L996.0 169.9" stroke-width="2.4"/>
<path d="M1012.7 152.1L1020.9 152.1" stroke-width="2.1" stroke-linecap="butt"/>
<path d="M1006.3 163.7L1013.7 152.9M1018.7 152.9L1014.9 163.3L1019.6 163.7L1019.6 185.7L988.7 185.7M1006.3 163.7L1006.3 169.9L974.9 170.3L963.3 176.6L963.7 180.6L969.9 182.7"/>
<path d="M1023.3 185.9C1021.3 179.0 1021.3 164.3 1023.7 156.6Q1024.8 153.4 1028.3 153.1L1041.3 153.7Q1046.7 154.7 1056.0 163.0L1077.3 167.0Q1080.8 168.1 1080.4 171.7L1080.0 177.4Q1082.4 179.0 1081.3 181.4Q1080.0 185.0 1074.4 186.3M1023.3 185.9L1055.7 186.3"/>
<path d="M1030.7 154.5L1028.7 164.6L1051.3 165.9"/>
<circle cx="979.1" cy="186.3" r="8.9" fill="#fff"/><circle cx="979.1" cy="186.3" r="4.5"/>
<circle cx="1064.9" cy="186.3" r="8.9" fill="#fff"/><circle cx="1064.9" cy="186.3" r="4.5"/>
</g>
<g transform="translate(-560.00 318.30)" fill="none" stroke="#d1000f" stroke-width="1.4" stroke-linejoin="round" stroke-linecap="round">
<path d="M961.1 144.1L961.9 184.3L965.3 184.3L965.3 181.0" stroke-width="2.3" stroke-linecap="butt" stroke-linejoin="miter"/>
<path d="M967.7 153.9L967.7 149.9L1006.3 163.9" stroke-width="2.5" stroke-linecap="butt" stroke-linejoin="miter"/>
<path d="M980.0 155.0L971.3 172.3M980.0 159.7L996.0 169.9" stroke-width="2.4"/>
<path d="M1012.7 152.1L1020.9 152.1" stroke-width="2.1" stroke-linecap="butt"/>
<path d="M1006.3 163.7L1013.7 152.9M1018.7 152.9L1014.9 163.3L1019.6 163.7L1019.6 185.7L988.7 185.7M1006.3 163.7L1006.3 169.9L974.9 170.3L963.3 176.6L963.7 180.6L969.9 182.7"/>
<path d="M1023.3 185.9C1021.3 179.0 1021.3 164.3 1023.7 156.6Q1024.8 153.4 1028.3 153.1L1041.3 153.7Q1046.7 154.7 1056.0 163.0L1077.3 167.0Q1080.8 168.1 1080.4 171.7L1080.0 177.4Q1082.4 179.0 1081.3 181.4Q1080.0 185.0 1074.4 186.3M1023.3 185.9L1055.7 186.3"/>
<path d="M1030.7 154.5L1028.7 164.6L1051.3 165.9"/>
<circle cx="979.1" cy="186.3" r="8.9" fill="#fff"/><circle cx="979.1" cy="186.3" r="4.5"/>
<circle cx="1064.9" cy="186.3" r="8.9" fill="#fff"/><circle cx="1064.9" cy="186.3" r="4.5"/>
</g>
<g fill="none" stroke="#0071bc" stroke-width="7.5" stroke-linejoin="miter" stroke-linecap="butt">
<polyline points="307.3,173.1 329.3,195.1 307.3,217.1"/>
<polyline points="332.9,491.8 310.9,513.8 332.9,535.8"/>
<polyline points="587.3,173.1 609.3,195.1 587.3,217.1"/>
<polyline points="612.9,491.8 590.9,513.8 612.9,535.8"/>
<polyline points="867.3,173.1 889.3,195.1 867.3,217.1"/>
<polyline points="892.9,491.8 870.9,513.8 892.9,535.8"/>
<polyline points="1000.3,263.5 1022.3,285.5 1044.3,263.5"/>
<polyline points="1000.3,420.2 1022.3,442.2 1044.3,420.2"/>
<polyline points="155.8,289.3 177.8,267.3 199.8,289.3"/>
<polyline points="155.8,446.0 177.8,424.0 199.8,446.0"/>
</g>
<g class="lbl">
<text x="130.62" y="227.3" textLength="85.94" lengthAdjust="spacingAndGlyphs">Purchase</text>
<text x="123.27" y="251.3" textLength="99.06" lengthAdjust="spacingAndGlyphs">Entry Point</text>
<text x="404.96" y="227.3" textLength="110.94" lengthAdjust="spacingAndGlyphs">Transport to</text>
<text x="416.08" y="251.3" textLength="87.28" lengthAdjust="spacingAndGlyphs">Customer</text>
<text x="648.08" y="223.1" textLength="184.32" lengthAdjust="spacingAndGlyphs">Regularly Scheduled</text>
<text x="681.73" y="246.8" textLength="117.34" lengthAdjust="spacingAndGlyphs">Maintenance</text>
<text x="968.82" y="222.2" textLength="103.65" lengthAdjust="spacingAndGlyphs">Mechanical</text>
<text x="970.44" y="246.2" textLength="100.06" lengthAdjust="spacingAndGlyphs">Breakdown</text>
<text x="124.69" y="395.1" textLength="107.43" lengthAdjust="spacingAndGlyphs">Repurchase</text>
<text x="989.50" y="395.1" textLength="65.47" lengthAdjust="spacingAndGlyphs">Recalls</text>
<text x="138.20" y="554.7" textLength="78.86" lengthAdjust="spacingAndGlyphs">Accident</text>
<text x="408.30" y="540.5" textLength="103.73" lengthAdjust="spacingAndGlyphs">Mechanical</text>
<text x="410.44" y="564.5" textLength="100.06" lengthAdjust="spacingAndGlyphs">Breakdown</text>
<text x="682.46" y="558.9" textLength="114.40" lengthAdjust="spacingAndGlyphs">Major Repair</text>
<text x="929.65" y="541.0" textLength="185.25" lengthAdjust="spacingAndGlyphs">Regularly Scheduled</text>
<text x="963.60" y="564.7" textLength="117.92" lengthAdjust="spacingAndGlyphs">Maintenance</text>
</g>
</svg></body></html>
